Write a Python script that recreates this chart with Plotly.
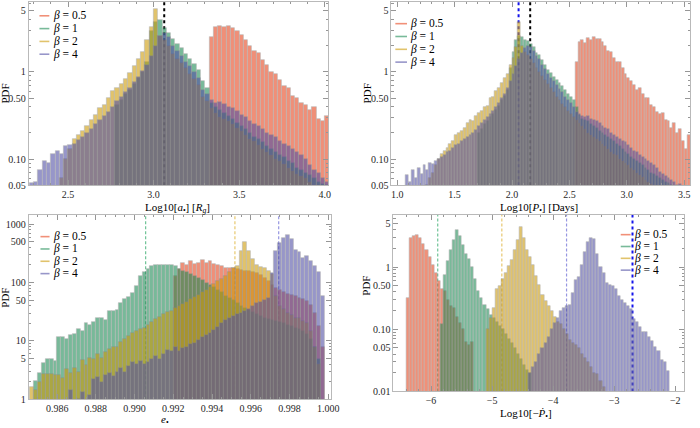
import math
import plotly.graph_objects as go

# ---------------- shared categories / styles ----------------
SERIES = ["<i>β</i> = 0.5", "<i>β</i> = 1", "<i>β</i> = 2", "<i>β</i> = 4"]
FILL = ["rgb(232,70,30)", "rgb(30,140,85)", "rgb(205,155,10)", "rgb(82,80,165)"]
OPAC = 0.6
FONT = "Liberation Serif"

# ---------------- Panel A : Log10[a*] ----------------
A_BIN = 0.025
A_START = [3.325, 2.775, 2.450, 2.275]          # first bin edge of each series
A_RED = [2.5, 3.3, 3.35, 3.3, 3.35, 3.2, 2.9, 2.65, 2.3, 2.0,
         1.75, 1.65, 1.35, 1.2, 1.0, 0.95, 0.8, 0.68, 0.65, 0.53,
         0.5, 0.44, 0.42, 0.37, 0.4, 0.29, 0.27, 0.31]
A_GREEN = [0.42, 0.48, 0.55, 0.62, 0.72, 0.84, 1.0, 1.3, 2.9, 3.7,
           3.9, 3.2, 2.8, 2.4, 2.1, 1.85, 1.6, 1.4, 1.22, 1.05,
           0.78, 0.66, 0.44, 0.4, 0.37, 0.34, 0.31, 0.29, 0.26, 0.24,
           0.22, 0.2, 0.18, 0.17, 0.155, 0.14, 0.13, 0.12, 0.11, 0.105,
           0.095, 0.09, 0.08, 0.075, 0.07, 0.065, 0.06, 0.055, 0.052, 0.05]
A_YELLOW = [0.06, 0.1, 0.13, 0.17, 0.19, 0.21, 0.24, 0.28, 0.32, 0.38,
            0.42, 0.5, 0.6, 0.66, 0.72, 0.82, 0.98, 1.15, 1.4, 1.7,
            2.3, 3.3, 5.3, 2.6, 2.3, 2.0, 1.6, 1.4, 1.25, 1.1,
            0.95, 0.82, 0.7, 0.52, 0.46, 0.38, 0.34, 0.3, 0.29, 0.27,
            0.25, 0.23, 0.21, 0.19, 0.17, 0.16, 0.145, 0.13, 0.12, 0.11,
            0.1, 0.095, 0.088, 0.08, 0.073, 0.068, 0.064, 0.06, 0.055, 0.05,
            0.046, 0.04]
A_PURPLE = [0.053, 0.054, 0.076, 0.096, 0.09, 0.113, 0.123, 0.113, 0.14, 0.145,
            0.15, 0.165, 0.18, 0.2, 0.22, 0.25, 0.28, 0.31, 0.35, 0.4,
            0.46, 0.52, 0.58, 0.66, 0.76, 0.88, 1.02, 1.2, 1.5, 2.0,
            2.6, 2.8, 2.5, 2.0, 1.75, 1.5, 1.3, 1.15, 1.0, 0.85,
            0.62, 0.55, 0.47, 0.44, 0.45, 0.43, 0.4, 0.38, 0.36, 0.32,
            0.3, 0.27, 0.25, 0.24, 0.22, 0.2, 0.19, 0.18, 0.16, 0.15,
            0.14, 0.13, 0.12, 0.11, 0.1, 0.085, 0.075, 0.07, 0.06, 0.055]
A_XTICKS = [2.5, 3.0, 3.5, 4.0]
A_XTEXT = ["2.5", "3.0", "3.5", "4.0"]
A_YTICKS = [0.05, 0.1, 0.5, 1, 5]
A_YTEXT = ["0.05", "0.10", "0.50", "1", "5"]
A_VLINES = [3.062]

# ---------------- Panel B : Log10[P*] ----------------
B_BIN = 0.025
B_START = [2.55, 1.70, 1.25, 1.075]
B_RED = [1.3, 2.2, 2.3, 2.15, 2.45, 2.3, 2.5, 2.35, 2.4, 2.2,
         1.95, 1.75, 1.7, 1.45, 1.3, 1.3, 1.1, 0.95, 0.85, 0.78,
         0.7, 0.62, 0.66, 0.55, 0.5, 0.5, 0.42, 0.4, 0.35, 0.33,
         0.34, 0.28, 0.27, 0.23, 0.26, 0.2, 0.22, 0.16, 0.13, 0.19]
B_GREEN = [0.2, 0.22, 0.25, 0.27, 0.3, 0.33, 0.37, 0.41, 0.47, 0.53,
           0.62, 1.1, 1.7, 2.3, 2.6, 2.5, 2.3, 2.25, 2.1, 1.9,
           1.65, 1.55, 1.35, 1.2, 1.05, 0.98, 0.88, 0.8, 0.74, 0.68,
           0.62, 0.56, 0.52, 0.47, 0.4, 0.32, 0.29, 0.28, 0.27, 0.25,
           0.24, 0.23, 0.21, 0.2, 0.19, 0.18, 0.17, 0.16, 0.15, 0.14,
           0.13, 0.12, 0.115, 0.105, 0.1, 0.095, 0.09, 0.085, 0.08, 0.075,
           0.07, 0.068, 0.064, 0.06, 0.058, 0.055, 0.053, 0.05, 0.048, 0.046,
           0.044, 0.04, 0.038, 0.036]
B_YELLOW = [0.05, 0.06, 0.07, 0.085, 0.1, 0.115, 0.125, 0.135, 0.15, 0.16,
            0.19, 0.2, 0.21, 0.23, 0.26, 0.28, 0.27, 0.31, 0.34, 0.36,
            0.4, 0.41, 0.5, 0.52, 0.6, 0.65, 0.75, 0.85, 0.95, 1.2,
            1.45, 1.9, 3.7, 2.0, 1.7, 1.55, 1.4, 1.25, 1.1, 1.0,
            0.9, 0.8, 0.72, 0.65, 0.58, 0.52, 0.48, 0.43, 0.4, 0.36,
            0.33, 0.3, 0.28, 0.26, 0.24, 0.22, 0.2, 0.19, 0.18, 0.17,
            0.16, 0.15, 0.14, 0.13, 0.12, 0.115, 0.11, 0.1, 0.095, 0.09,
            0.085, 0.08, 0.075, 0.07, 0.066, 0.062, 0.058, 0.055, 0.052, 0.05,
            0.047, 0.045]
B_PURPLE = [0.065, 0.055, 0.075, 0.06, 0.08, 0.068, 0.085, 0.075, 0.09, 0.088,
            0.095, 0.1, 0.105, 0.11, 0.12, 0.125, 0.135, 0.145, 0.15, 0.16,
            0.17, 0.18, 0.19, 0.2, 0.215, 0.24, 0.26, 0.28, 0.3, 0.33,
            0.36, 0.4, 0.44, 0.5, 0.56, 0.65, 0.78, 0.95, 1.15, 1.4,
            1.65, 1.85, 1.95, 1.9, 1.75, 1.5, 1.4, 1.2, 1.08, 0.95,
            0.86, 0.78, 0.7, 0.64, 0.58, 0.52, 0.48, 0.44, 0.4, 0.35,
            0.33, 0.31, 0.3, 0.31, 0.29, 0.28, 0.27, 0.26, 0.24, 0.23,
            0.22, 0.2, 0.19, 0.18, 0.17, 0.16, 0.155, 0.145, 0.135, 0.125,
            0.12, 0.11, 0.105, 0.1, 0.095, 0.09, 0.085, 0.08, 0.072, 0.068,
            0.064, 0.06, 0.058, 0.055, 0.05, 0.052, 0.047, 0.045, 0.043]
B_XTICKS = [1.0, 1.5, 2.0, 2.5, 3.0, 3.5]
B_XTEXT = ["1.0", "1.5", "2.0", "2.5", "3.0", "3.5"]
B_YTICKS = A_YTICKS
B_YTEXT = A_YTEXT
B_VLINES = [2.057, 2.158]

# ---------------- Panel C : e* ----------------
C_BIN = 0.0002
C_START = [0.9920, 0.9848, 0.9846, 0.9866]
C_RED = [130, 170, 213, 200, 230, 210, 215, 240, 213, 230,
         210, 200, 190, 180, 175, 175, 170, 165, 160, 155,
         150, 145, 135, 120, 105, 90, 80, 75, 70, 65,
         62, 58, 55, 52, 48, 42, 30, 18, 8]
C_GREEN = [2.1, 2.8, 4.2, 5.0, 5.0, 4.6, 11.5, 11.5, 11.0, 12.5,
           13, 16, 15, 20, 19, 21, 25, 25, 23, 33,
           33, 34, 45, 52, 56, 66, 88, 130, 150, 170,
           190, 200, 200, 200, 200, 200, 195, 170, 160, 150,
           140, 130, 120, 110, 100, 92, 85, 75, 68, 60,
           55, 50, 45, 40, 37, 34, 31, 29, 27, 25,
           24, 23, 22, 21, 20, 19, 18, 17, 16, 15,
           13, 11, 8, 5]
C_YELLOW = [1.66, 1.43, 2.0, 2.67, 2.67, 2.67, 2.6, 2.6, 2.3, 3.3,
            2.8, 3.4, 3.0, 4.8, 3.9, 5.2, 5.0, 6.0, 5.2, 6.5,
            7.4, 8.0, 7.8, 9.5, 11, 12, 13.5, 15, 16, 17,
            19, 21, 24, 26, 29, 31, 33, 36, 40, 43,
            47, 52, 56, 62, 68, 75, 85, 95, 105, 115,
            130, 150, 180, 195, 350, 500, 350, 255, 200, 185,
            175, 160, 140, 60, 40, 35, 30, 28, 25, 25,
            22, 20, 15, 8, 4]
C_PURPLE = [1.43, 0.9, 1.0, 1.35, 0.9, 1.2, 2.2, 2.4, 2.0, 2.6,
            2.8, 2.5, 3.0, 3.4, 3.0, 3.8, 4.4, 4.0, 4.6, 4.0,
            4.4, 5.0, 5.6, 5.0, 6.0, 7.0, 6.8, 7.9, 6.8, 7.5,
            8.0, 8.8, 9.4, 10.5, 11.5, 12.5, 13.8, 15.5, 17.5, 20,
            23, 25, 27, 29, 30, 32, 35, 40, 44, 47,
            50, 54, 144, 350, 485, 590, 650, 560, 365, 330,
            260, 290, 233, 195, 150, 58]
C_XTICKS = [0.986, 0.988, 0.990, 0.992, 0.994, 0.996, 0.998, 1.000]
C_XTEXT = ["0.986", "0.988", "0.990", "0.992", "0.994", "0.996", "0.998", "1.000"]
C_YTICKS = [1, 5, 10, 50, 100, 500, 1000]
C_YTEXT = ["1", "5", "10", "50", "100", "500", "1000"]
C_VLINES = [0.99057, 0.99518, 0.99744]      # green, yellow, purple medians

# ---------------- Panel D : Log10[-Pdot*] ----------------
D_BIN = 0.05
D_START = [-6.40, -5.85, -5.10, -4.40]
D_RED = [0.32, 2.9, 3.2, 3.3, 3.0, 2.4, 1.9, 1.45, 1.1, 0.8,
         0.6, 0.45, 0.41, 0.3, 0.236, 0.22, 0.16, 0.128, 0.1, 0.062,
         0.056, 0.062]
D_GREEN = [0.12, 0.75, 1.25, 1.9, 2.7, 3.9, 3.2, 2.3, 1.6, 1.35,
           1.0, 0.65, 0.42, 0.32, 0.25, 0.21, 0.17, 0.15, 0.13, 0.115,
           0.1, 0.085, 0.07, 0.06, 0.05, 0.04, 0.033, 0.027, 0.022, 0.02]
D_YELLOW = [0.1, 0.15, 0.22, 0.45, 0.5, 0.65, 0.82, 1.05, 1.3, 1.9,
            2.7, 4.5, 2.9, 1.9, 1.45, 1.1, 0.72, 0.52, 0.36, 0.29,
            0.24, 0.196, 0.155, 0.13, 0.12, 0.1, 0.085, 0.067, 0.06, 0.055,
            0.05, 0.04, 0.035, 0.03, 0.025, 0.02, 0.019, 0.015, 0.012]
D_PURPLE = [0.02, 0.025, 0.03, 0.04, 0.05, 0.06, 0.075, 0.1, 0.125, 0.15,
            0.2, 0.22, 0.24, 0.25, 0.38, 0.62, 0.7, 1.07, 1.75, 2.5,
            3.0, 2.8, 1.65, 1.0, 0.8, 0.55, 0.52, 0.5, 0.45, 0.34,
            0.3, 0.27, 0.236, 0.21, 0.145, 0.13, 0.11, 0.089, 0.089, 0.074,
            0.066, 0.052, 0.044, 0.032, 0.03, 0.021]
D_XTICKS = [-6, -5, -4, -3, -2]
D_XTEXT = ["\u22126", "\u22125", "\u22124", "\u22123", "\u22122"]
D_YTICKS = [0.01, 0.05, 0.1, 0.5, 1, 5]
D_YTEXT = ["0.01", "0.05", "0.10", "0.50", "1", "5"]
D_VLINES = [-5.89, -4.84, -3.78, -2.70]

# ---------------- figure ----------------
W, H = 700, 428
fig = go.Figure()


def px_dom(a, b, total):
    return [a / total, b / total]


def ydom(top, bottom):
    return [1 - bottom / H, 1 - top / H]


PANELS = [
    dict(ax="", bw=A_BIN, starts=A_START, data=[A_RED, A_GREEN, A_YELLOW, A_PURPLE],
         xd=px_dom(29, 332, W), yd=ydom(2, 188), xr=[2.27, 4.02],
         yr=[math.log10(0.05), math.log10(6.3)], xt=A_XTICKS, xtt=A_XTEXT,
         yt=A_YTICKS, ytt=A_YTEXT, xminor=0.1),
    dict(ax="2", bw=B_BIN, starts=B_START, data=[B_RED, B_GREEN, B_YELLOW, B_PURPLE],
         xd=px_dom(396, 698, W), yd=ydom(2, 188), xr=[0.95, 3.55],
         yr=[math.log10(0.05), math.log10(6.3)], xt=B_XTICKS, xtt=B_XTEXT,
         yt=B_YTICKS, ytt=B_YTEXT, xminor=0.1),
    dict(ax="3", bw=C_BIN, starts=C_START, data=[C_RED, C_GREEN, C_YELLOW, C_PURPLE],
         xd=px_dom(29, 335, W), yd=ydom(218, 405), xr=[0.98453, 1.00015],
         yr=[0, 3.157], xt=C_XTICKS, xtt=C_XTEXT,
         yt=C_YTICKS, ytt=C_YTEXT, xminor=0.0005),
    dict(ax="4", bw=D_BIN, starts=D_START, data=[D_RED, D_GREEN, D_YELLOW, D_PURPLE],
         xd=px_dom(398, 692, W), yd=ydom(218, 397), xr=[-6.615, -1.855],
         yr=[-2, 0.839], xt=D_XTICKS, xtt=D_XTEXT,
         yt=D_YTICKS, ytt=D_YTEXT, xminor=0.2),
]

FRAME = "rgb(185,185,185)"
TICKC = "rgb(150,150,150)"


def log_minors(lo, hi):
    out = []
    for e in range(int(math.floor(lo)) - 1, int(math.ceil(hi)) + 1):
        for m in range(2, 10):
            v = m * 10 ** e
            if 10 ** lo <= v <= 10 ** hi:
                out.append(v)
    return out


for p in PANELS:
    xa, ya = "x" + p["ax"], "y" + p["ax"]
    for i, vals in enumerate(p["data"]):
        s = p["starts"][i]
        centers = [s + p["bw"] * (j + 0.5) for j in range(len(vals))]
        fig.add_trace(go.Bar(
            x=centers, y=vals, width=p["bw"], xaxis=xa, yaxis=ya,
            marker=dict(color=FILL[i], line=dict(color="rgb(135,135,135)", width=0.6)),
            opacity=OPAC, showlegend=False, name=SERIES[i]))
    xkey = "xaxis" + p["ax"]
    ykey = "yaxis" + p["ax"]
    fig.update_layout(**{
        xkey: dict(domain=p["xd"], anchor=ya, range=p["xr"], tickmode="array",
                   tickvals=p["xt"], ticktext=p["xtt"], ticks="inside", ticklen=5,
                   tickcolor=TICKC, showline=True, linecolor=FRAME, linewidth=1,
                   mirror="ticks", showgrid=False, zeroline=False,
                   tickfont=dict(family=FONT, size=10, color="rgb(40,40,40)"),
                   minor=dict(ticks="inside", ticklen=2.5, dtick=p["xminor"], tick0=0,
                              tickcolor=TICKC, showgrid=False)),
        ykey: dict(domain=p["yd"], anchor=xa, type="log", range=p["yr"], tickmode="array",
                   tickvals=p["yt"], ticktext=p["ytt"], ticks="inside", ticklen=5,
                   tickcolor=TICKC, showline=True, linecolor=FRAME, linewidth=1,
                   mirror="ticks", showgrid=False, zeroline=False,
                   tickfont=dict(family=FONT, size=10, color="rgb(40,40,40)"),
                   minor=dict(ticks="inside", ticklen=2.5, tickvals=log_minors(*p["yr"]),
                              tickcolor=TICKC, showgrid=False)),
    })

# ---------------- reference vertical lines ----------------
def vline(ax, x, color, dash, width):
    fig.add_shape(type="line", xref="x" + ax, yref="y" + ax + " domain", x0=x, x1=x,
                  y0=0, y1=1, line=dict(color=color, dash=dash, width=width), layer="below")


vline("", A_VLINES[0], "black", "dot", 2)
vline("2", B_VLINES[0], "rgb(20,20,235)", "dot", 2)
vline("2", B_VLINES[1], "black", "dot", 2)
LIGHT = ["rgb(110,195,150)", "rgb(232,200,110)", "rgb(150,150,225)"]
for k in range(3):
    vline("3", C_VLINES[k], LIGHT[k], "3px,2px", 1.2)
    vline("4", D_VLINES[k], LIGHT[k], "3px,2px", 1.2)
vline("4", D_VLINES[3], "rgb(20,20,235)", "dot", 2)

# ---------------- legends (drawn inside each panel) ----------------
LEG_LINE = ["rgba(232,70,30,0.6)", "rgba(30,140,85,0.6)", "rgba(205,155,10,0.6)", "rgba(82,80,165,0.6)"]
LEGENDS = [
    ("", 0.036, 0.069, 0.079, [0.9247, 0.8548, 0.7849, 0.7151]),
    ("2", 0.013, 0.052, 0.060, [0.8817, 0.8118, 0.7419, 0.6720]),
    ("3", 0.039, 0.069, 0.078, [0.8824, 0.8155, 0.7487, 0.6818]),
    ("4", 0.782, 0.816, 0.825, [0.8883, 0.8212, 0.7542, 0.6872]),
]
for ax, lx0, lx1, tx, ys in LEGENDS:
    for i in range(4):
        fig.add_shape(type="line", xref="x" + ax + " domain", yref="y" + ax + " domain",
                      x0=lx0, x1=lx1, y0=ys[i], y1=ys[i],
                      line=dict(color=LEG_LINE[i], width=1.6))
        fig.add_annotation(xref="x" + ax + " domain", yref="y" + ax + " domain",
                           x=tx, y=ys[i], text=SERIES[i], showarrow=False,
                           xanchor="left", yanchor="middle", borderpad=0,
                           font=dict(family=FONT, size=11.5, color="black"))

# ---------------- axis titles ----------------
TITLES = [
    ("Log10[<i>a</i><sub>•</sub>] [<i>R</i><sub><i>g</i></sub>]", 180, 211, 0),
    ("Log10[<i>P</i><sub>•</sub>] [Days]", 545, 211, 0),
    ("<i>e</i><sub>•</sub>", 167, 426, 0),
    ("Log10[\u2212<i>Ṗ</i><sub>•</sub>]", 532, 420, 0),
    ("PDF", 5, 95, -90),
    ("PDF", 371, 95, -90),
    ("PDF", 5, 302, -90),
    ("PDF", 370, 290, -90),
]
for txt, x, y, ang in TITLES:
    fig.add_annotation(xref="paper", yref="paper", x=x / W, y=1 - y / H, text=txt,
                       showarrow=False, xanchor="center", yanchor="middle", textangle=ang,
                       borderpad=0, font=dict(family=FONT, size=11, color="black"))

fig.update_layout(width=W, height=H, margin=dict(l=0, r=0, t=0, b=0),
                  barmode="overlay", bargap=0, plot_bgcolor="white",
                  paper_bgcolor="white", showlegend=False)

fig.write_html("out.html")
